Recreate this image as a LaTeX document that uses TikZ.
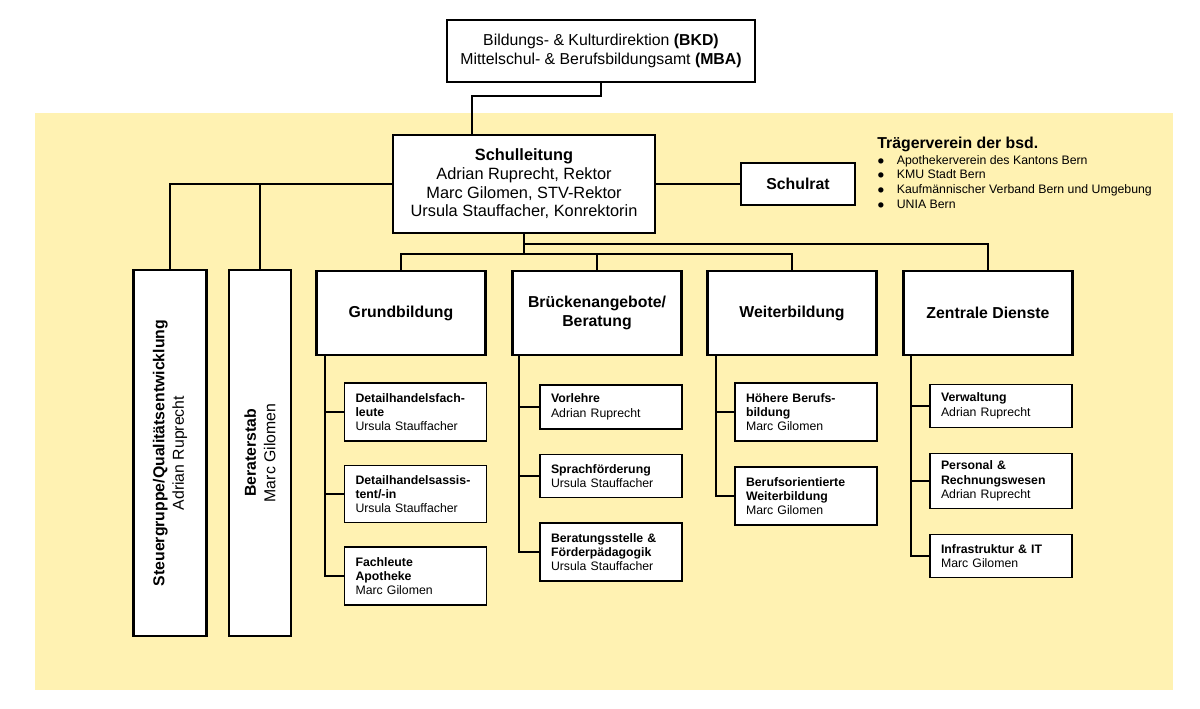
\documentclass[tikz,border=0pt]{standalone}
\usepackage{fontspec}
\setmainfont{Liberation Sans}
\usetikzlibrary{calc, positioning}
\definecolor{paleyellow}{RGB}{255,242,178}
\newcommand{\listdot}{{\scriptsize$\bullet$}\enspace\enspace}

\begin{document}
\begin{tikzpicture}[
	x=0.02cm, y=-0.02cm,
	every node/.style = {align=center, inner sep=2pt},
	box/.style = {draw, line width=1.3pt, fill=white},
	head box/.style = {box, minimum width=3.38cm, minimum height=1.68cm, font=\fontsize{9}{11}\selectfont\bfseries},
	unit box/.style = {box, line width=1pt, minimum width=2.84cm, minimum height=#1, text width=2.4cm, align=left, font=\fontsize{7}{8.2}\selectfont},
	tall box/.style = {box, minimum width=7.32cm, minimum height=#1, rotate=90, font=\fontsize{9}{11}\selectfont},
	link/.style = {line width=0.8pt}
]
% background
\useasboundingbox (0,0) rectangle (1200,708);
\fill[white] (0,0) rectangle (1200,708);
\fill[paleyellow] (35,113) rectangle (1173,690);

% top
\node[box, minimum width=6.16cm, minimum height=1.24cm, font=\fontsize{9}{11}\selectfont] (bkd) at (601,51)
	{Bildungs- \& Kulturdirektion \textbf{(BKD)}\\Mittelschul- \& Berufsbildungsamt \textbf{(MBA)}};
\node[box, minimum width=5.24cm, minimum height=1.96cm, font=\fontsize{9.3}{10.6}\selectfont] (sl) at (524,184)
	{\textbf{Schulleitung}\\Adrian Ruprecht, Rektor\\Marc Gilomen, STV-Rektor\\Ursula Stauffacher, Konrektorin};
\node[box, minimum width=2.28cm, minimum height=0.84cm, font=\fontsize{9}{11}\selectfont\bfseries] (rat) at (798,184) {Schulrat};
\node[anchor=north west, inner sep=0pt, font=\fontsize{9}{11}\selectfont\bfseries] (traeger) at (877,137) {Tr\"agerverein der bsd.};
\node[anchor=north west, inner sep=0pt, align=left, font=\fontsize{7}{8.3}\selectfont] (liste) at (877,155)
	{\listdot Apothekerverein des Kantons Bern\\
	\listdot KMU Stadt Bern\\
	\listdot Kaufm\"annischer Verband Bern und Umgebung\\
	\listdot UNIA Bern};

% staff
\node[tall box=1.46cm] (steuer) at (170,453) {\textbf{Steuergruppe/Qualitätsentwicklung}\\Adrian Ruprecht};
\node[tall box=1.24cm] (stab) at (260,453) {\textbf{Beraterstab}\\Marc Gilomen};

% departments
\node[head box] (grund) at (401,313) {Grundbildung};
\node[head box] (bruecke) at (597,313) {Brückenangebote/\\Beratung};
\node[head box] (weiter) at (792,313) {Weiterbildung};
\node[head box] (zentral) at (988,313) {Zentrale Dienste};

% units
\node[unit box=1.16cm] (g1) at (415.5,412) {\textbf{Detailhandelsfach-\\leute}\\Ursula Stauffacher};
\node[unit box=1.14cm] (g2) at (415.5,494) {\textbf{Detailhandelsassis-\\tent/-in}\\Ursula Stauffacher};
\node[unit box=1.16cm] (g3) at (415.5,576) {\textbf{Fachleute\\Apotheke}\\Marc Gilomen};
\node[unit box=0.88cm] (b1) at (611,407) {\textbf{Vorlehre}\\Adrian Ruprecht};
\node[unit box=0.86cm] (b2) at (611,476) {\textbf{Sprachförderung}\\Ursula Stauffacher};
\node[unit box=1.16cm] (b3) at (611,552) {\textbf{Beratungsstelle \&\\Förderpädagogik}\\Ursula Stauffacher};
\node[unit box=1.16cm] (w1) at (806,412) {\textbf{Höhere Berufs-\\bildung}\\Marc Gilomen};
\node[unit box=1.16cm] (w2) at (806,496) {\textbf{Berufsorientierte\\Weiterbildung}\\Marc Gilomen};
\node[unit box=0.86cm] (z1) at (1001,406) {\textbf{Verwaltung}\\Adrian Ruprecht};
\node[unit box=1.1cm] (z2) at (1001,481) {\textbf{Personal \&\\Rechnungswesen}\\Adrian Ruprecht};
\node[unit box=0.86cm] (z3) at (1001,556) {\textbf{Infrastruktur \& IT}\\Marc Gilomen};

% connectors
\coordinate (top) at (472,96);
\coordinate (fork) at (524,254);
\coordinate (bar) at (524,244);
\draw[link] (bkd.south) |- (top) -- (sl.north -| top);
\draw[link] (sl) -- (rat);
\draw[link] (sl.west) -| (steuer.east);
\draw[link] (stab.east) -- (stab.east |- sl.west);
\draw[link] (sl.south) -- (fork);
\draw[link] (bar) -| (zentral.north);
\draw[link] (grund.north) |- (fork) -| (weiter.north);
\draw[link] (fork) -| (bruecke.north);
\foreach \d/\x/\u in {grund/325/{g1,g2,g3}, bruecke/519/{b1,b2,b3}, weiter/716/{w1,w2}, zentral/911/{z1,z2,z3}}
	\foreach \n in \u
		\draw[link] (\d.south -| \x,0) |- (\n.west);
\end{tikzpicture}
\end{document}
